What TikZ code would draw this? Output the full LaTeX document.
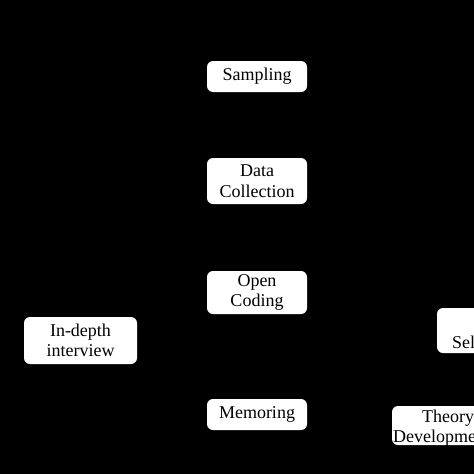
\documentclass[tikz,border=0pt]{standalone}
\usepackage{fontspec}
\setmainfont{Liberation Serif}
\begin{document}
\begin{tikzpicture}[x=1pt,y=1pt,
  box/.style={fill=white, draw=none, rounded corners=6pt, inner sep=0pt,
    align=center, font=\fontsize{18}{20.5}\selectfont, text=black},
  txt/.style={inner sep=0pt, anchor=base west, font=\fontsize{18}{20.5}\selectfont, text=black}]
\useasboundingbox (0,0) rectangle (474,-474);
\fill[black] (0,0) rectangle (474,-474);
\node[box, minimum width=100pt, minimum height=31pt] (samp) at (257,-76.5) {Sampling};
\node[box, minimum width=100pt, minimum height=46pt] (data) at (257,-181) {Data\\Collection};
\node[box, minimum width=100pt, minimum height=43pt] (open) at (257,-292.5) {Open\\Coding};
\node[box, minimum width=100pt, minimum height=31pt] (memo) at (257,-414.5) {Memoring};
\node[box, minimum width=113pt, minimum height=47pt] (indepth) at (80.5,-340.5) {In-depth\\interview};
\node[box, minimum width=130pt, minimum height=45pt] (sel) at (502,-330.5) {};
\node[txt] (seltext) at (452,-348) {Selective Coding};
\node[box, minimum width=110pt, minimum height=39pt] (theory) at (447,-425.5) {};
\node[txt] (theorytext1) at (422,-422) {Theory};
\node[txt] (theorytext2) at (393,-442) {Development};
\end{tikzpicture}
\end{document}
